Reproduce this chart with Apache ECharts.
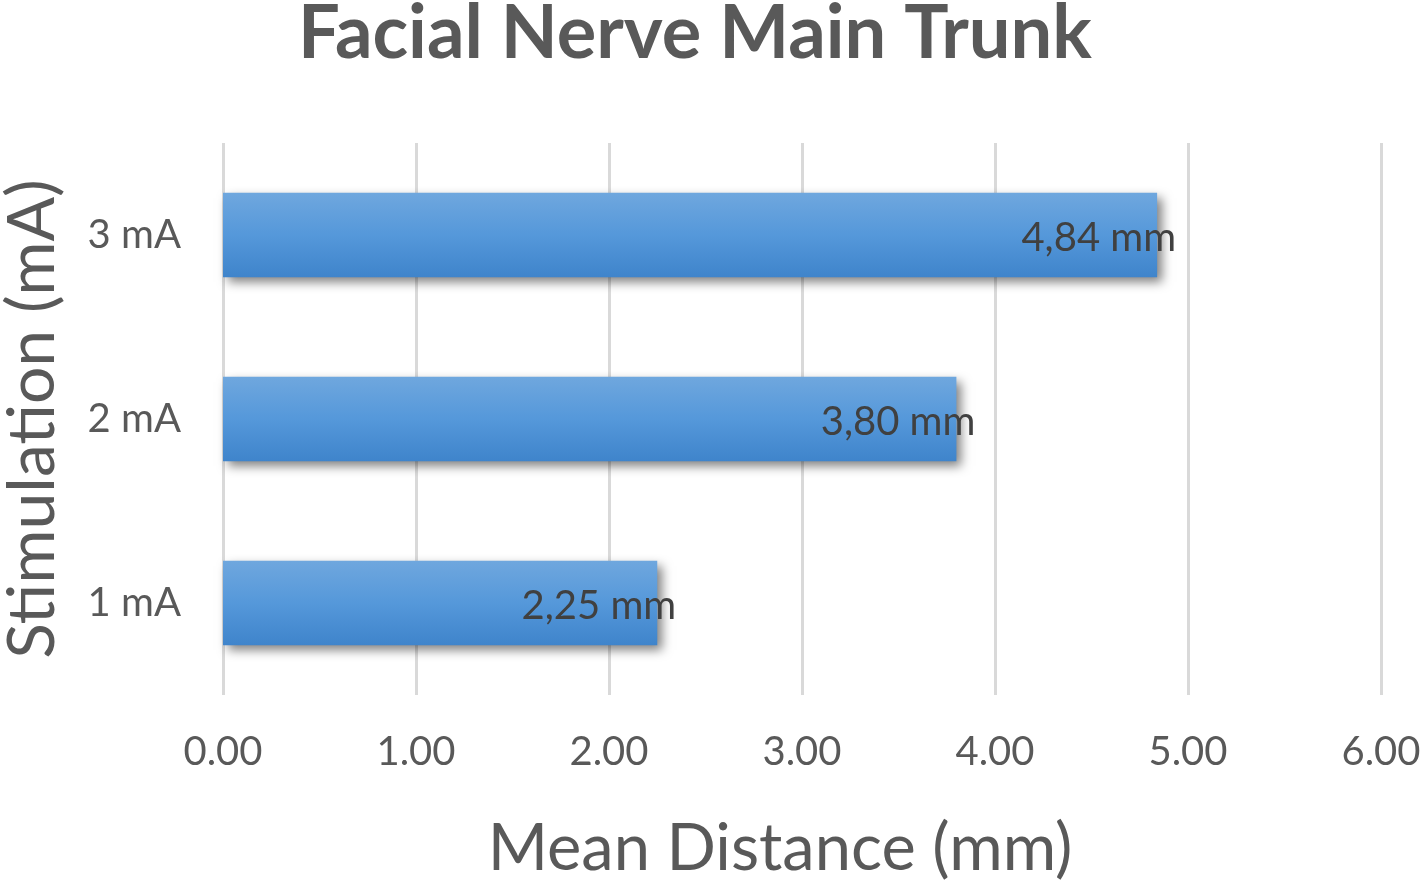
<!DOCTYPE html>
<html>
<head>
<meta charset="utf-8">
<script src="https://cdn.jsdelivr.net/npm/echarts@6/dist/echarts.min.js"></script>
<style>
html,body{margin:0;padding:0;background:#fff;}
#chart{width:1425px;height:887px;}
</style>
</head>
<body>
<div id="chart"></div>
<script>
const categories = ['1 mA', '2 mA', '3 mA'];
const meanDistance = [2.25, 3.80, 4.84];
const xTicks = [0, 1, 2, 3, 4, 5, 6];

const FONT = 'Lato';
const chart = echarts.init(document.getElementById('chart'));
chart.setOption({
  backgroundColor: '#ffffff',
  animation: false,
  title: {
    text: 'Facial Nerve Main Trunk',
    left: 298,
    top: -8,
    padding: [5, 0, 5, 0],
    textStyle: { fontFamily: FONT, fontWeight: 'bold', fontSize: 74, color: '#595959' }
  },
  grid: { left: 223, right: 44, top: 143, bottom: 192, containLabel: false, outerBoundsMode: 'none' },
  xAxis: {
    type: 'value',
    min: xTicks[0],
    max: xTicks[xTicks.length - 1],
    interval: 1,
    name: 'Mean Distance (mm)',
    nameLocation: 'middle',
    nameGap: 122,
    nameTextStyle: { fontFamily: FONT, fontSize: 65, color: '#595959', padding: [0, 44, 0, 0] },
    axisLine: { show: false },
    axisTick: { show: false },
    axisLabel: {
      fontFamily: FONT, fontSize: 40, color: '#595959', margin: 37,
      formatter: v => v.toFixed(2)
    },
    splitLine: { show: true, lineStyle: { color: '#d9d9d9', width: 3 } }
  },
  yAxis: {
    type: 'category',
    data: categories,
    name: 'Stimulation (mA)',
    nameLocation: 'middle',
    nameGap: 157,
    nameTextStyle: { fontFamily: FONT, fontSize: 66, color: '#595959' },
    axisLine: { show: false },
    axisTick: { show: false },
    axisLabel: { fontFamily: FONT, fontSize: 40, color: '#595959', margin: 42 },
    splitLine: { show: false }
  },
  series: [{
    type: 'bar',
    data: meanDistance,
    barWidth: '46%',
    itemStyle: {
      color: new echarts.graphic.LinearGradient(0, 0, 0, 1, [
        { offset: 0, color: '#6fa7de' },
        { offset: 0.5, color: '#5598da' },
        { offset: 1, color: '#3f84cb' }
      ]),
      shadowColor: 'rgba(0,0,0,0.5)',
      shadowBlur: 10,
      shadowOffsetX: 5,
      shadowOffsetY: 5
    },
    label: {
      show: true,
      position: 'insideRight',
      offset: [24, 3],
      fontFamily: FONT,
      fontSize: 40,
      color: '#404040',
      formatter: p => p.value.toFixed(2).replace('.', ',') + ' mm'
    }
  }]
});
</script>
</body>
</html>
